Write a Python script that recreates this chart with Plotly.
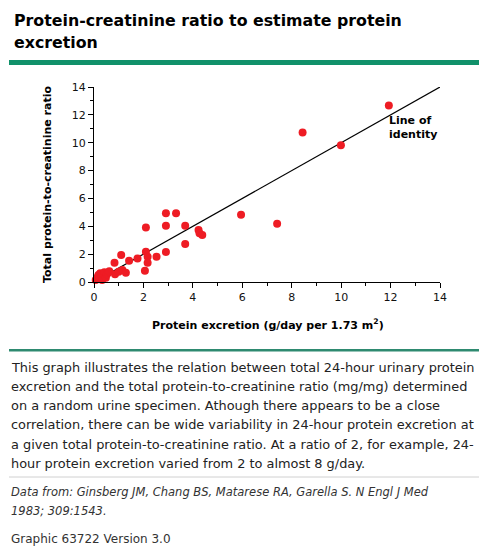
import plotly.graph_objects as go

# ---- data ----
protein_excretion = [0.07, 0.12, 0.18, 0.22, 0.25, 0.3, 0.33, 0.38, 0.42, 0.48, 0.52, 0.57, 0.62,
                     0.83, 0.85, 1.0, 1.1, 1.15, 1.29, 1.42, 1.76, 2.06, 2.1, 2.1, 2.17, 2.17,
                     2.53, 2.91, 2.91, 2.91, 3.32, 3.69, 3.69, 4.23, 4.27, 4.38, 5.95, 7.41,
                     8.44, 9.99, 11.93]
pc_ratio = [0.14, 0.3, 0.5, 0.22, 0.62, 0.4, 0.15, 0.6, 0.7, 0.3, 0.55, 0.67, 0.78,
            1.39, 0.55, 0.74, 1.94, 0.86, 0.67, 1.53, 1.68, 0.81, 2.18, 3.91, 1.82, 1.39,
            1.82, 2.16, 4.03, 4.94, 4.94, 4.03, 2.73, 3.74, 3.5, 3.38, 4.82, 4.19,
            10.74, 9.81, 12.68]
identity_x = [0, 14]
identity_y = [0, 14]
tick_vals = [0, 2, 4, 6, 8, 10, 12, 14]

title_lines = ["Protein-creatinine ratio to estimate protein", "excretion"]
para_lines = [
    "This graph illustrates the relation between total 24-hour urinary protein",
    "excretion and the total protein-to-creatinine ratio (mg/mg) determined",
    "on a random urine specimen. Athough there appears to be a close",
    "correlation, there can be wide variability in 24-hour protein excretion at",
    "a given total protein-to-creatinine ratio. At a ratio of 2, for example, 24-",
    "hour protein excretion varied from 2 to almost 8 g/day.",
]
source_lines = ["Data from: Ginsberg JM, Chang BS, Matarese RA, Garella S. N Engl J Med",
                "1983; 309:1543."]
footer = "Graphic 63722 Version 3.0"

# ---- layout geometry ----
W, H = 490, 558
L, R, T, B = 94, 490 - 440, 87, 558 - 282
PW = W - L - R
PH = H - T - B
FONT = "DejaVu Sans, Verdana, sans-serif"


def xp(px):
    return (px - L) / PW


def yp(py):
    return (H - B - py) / PH


fig = go.Figure()
fig.add_trace(go.Scatter(x=identity_x, y=identity_y, mode="lines",
                         line=dict(color="black", width=1.2), hoverinfo="skip",
                         showlegend=False))
fig.add_trace(go.Scatter(x=protein_excretion, y=pc_ratio, mode="markers",
                         marker=dict(color="#ee1c24", size=8, line=dict(width=0)),
                         cliponaxis=False, showlegend=False))

axis_common = dict(range=[0, 14], tickvals=tick_vals, ticks="outside", ticklen=5,
                   tickwidth=1, tickcolor="black", showline=True, linecolor="black",
                   linewidth=1, showgrid=False, zeroline=False, fixedrange=True,
                   tickfont=dict(family=FONT, size=11, color="#111"),
                   minor=dict(ticks="outside", ticklen=3, dtick=1, tickcolor="black",
                              showgrid=False))

fig.update_layout(
    width=W, height=H, autosize=False,
    margin=dict(l=L, r=R, t=T, b=B, pad=0),
    paper_bgcolor="white", plot_bgcolor="white",
    xaxis=dict(**axis_common),
    yaxis=dict(**axis_common),
    showlegend=False,
)

ann = []
# title
for i, t in enumerate(title_lines):
    ann.append(dict(text=f"<b>{t}</b>", x=xp(12), y=yp(20 + i * 23), xref="paper", yref="paper",
                    xanchor="left", yanchor="middle", showarrow=False,
                    font=dict(family=FONT, size=15.8, color="black")))
# axis titles
ann.append(dict(text="<b>Total protein-to-creatinine ratio</b>", x=xp(47), y=yp(185),
                xref="paper", yref="paper", xanchor="center", yanchor="middle",
                textangle=-90, showarrow=False, font=dict(family=FONT, size=11, color="black")))
ann.append(dict(text="<b>Protein excretion (g/day per 1.73 m<sup>2</sup>)</b>", x=xp(268), y=yp(324),
                xref="paper", yref="paper", xanchor="center", yanchor="middle",
                showarrow=False, font=dict(family=FONT, size=11, color="black")))
# line of identity label
ann.append(dict(text="<b>Line of<br>identity</b>", x=11.85, y=11.1, xref="x", yref="y",
                xanchor="left", yanchor="middle", align="left", showarrow=False,
                font=dict(family=FONT, size=11, color="black")))
# paragraph
para_y = [367, 386, 405, 424, 444, 463]
for t, py in zip(para_lines, para_y):
    ann.append(dict(text=t, x=xp(9), y=yp(py), xref="paper", yref="paper", xanchor="left",
                    yanchor="middle", showarrow=False,
                    font=dict(family=FONT, size=12.9, color="#222")))
for t, py in zip(source_lines, [492, 511]):
    ann.append(dict(text=f"<i>{t}</i>", x=xp(9), y=yp(py), xref="paper", yref="paper",
                    xanchor="left", yanchor="middle", showarrow=False,
                    font=dict(family=FONT, size=11.5, color="#333")))
ann.append(dict(text=footer, x=xp(9), y=yp(539), xref="paper", yref="paper", xanchor="left",
                yanchor="middle", showarrow=False, font=dict(family=FONT, size=12, color="#333")))
fig.update_layout(annotations=ann)

shapes = [
    dict(type="rect", xref="paper", yref="paper", x0=xp(9), x1=xp(479), y0=yp(60), y1=yp(65),
         fillcolor="#11916a", line=dict(width=0)),
    dict(type="rect", xref="paper", yref="paper", x0=xp(9), x1=xp(479), y0=yp(349), y1=yp(351.5),
         fillcolor="#2e8a70", line=dict(width=0)),
    dict(type="line", xref="paper", yref="paper", x0=xp(9), x1=xp(479), y0=yp(477), y1=yp(477),
         line=dict(color="#d0d0d0", width=1)),
]
fig.update_layout(shapes=shapes)

fig.write_html("out.html")
